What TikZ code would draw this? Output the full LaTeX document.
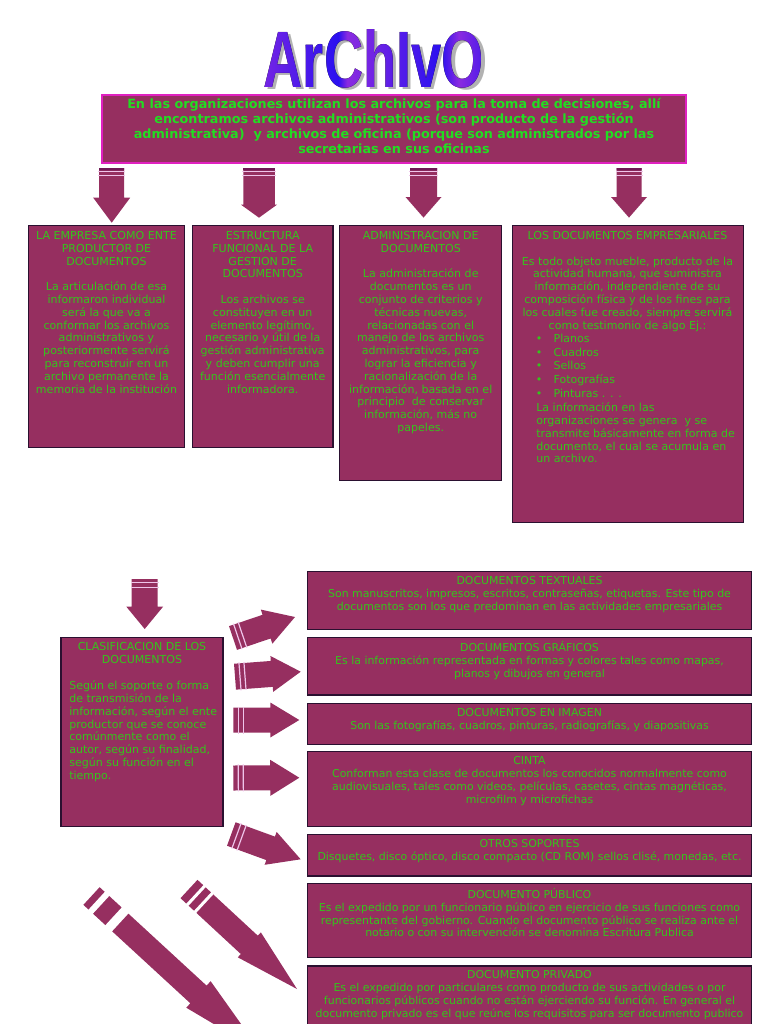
\documentclass[tikz,border=0pt]{standalone}
\usepackage{fontspec}
\setmainfont{DejaVu Sans}
\usetikzlibrary{fadings,calc}
\definecolor{plum}{HTML}{962F60}
\definecolor{plumdark}{HTML}{6E1A55}
\definecolor{edgedark}{HTML}{2A1030}
\definecolor{lime}{HTML}{35C41C}
\definecolor{limebright}{HTML}{22DD22}
\definecolor{headedge}{HTML}{E020C0}
\definecolor{paleline}{HTML}{EFC4EA}
\definecolor{tp}{HTML}{8A2BE0}
\definecolor{tb}{HTML}{2A10F0}
\pgfdeclarehorizontalshading{archivoshade}{168pt}{color(0pt)=(tp);color(28pt)=(tb);color(33pt)=(tp);color(50pt)=(tb);color(54pt)=(tp);color(76pt)=(tb);color(78pt)=(tp);color(99pt)=(tb);color(103pt)=(tp);color(112pt)=(tb);color(115pt)=(tp);color(136pt)=(tb);color(138pt)=(tp);color(168pt)=(tb)}
\begin{tikzfadingfrompicture}[name=archivofade]
\node[inner sep=0pt,text=transparent!0,xscale=.68,font=\fontspec{Liberation Sans Bold}\fontsize{60}{60}\selectfont] (fadetitle) at (0,0) {ArChIvO};
\end{tikzfadingfrompicture}
\tikzset{
  paper/.style={x=.75pt,y=-.75pt},
  boxst/.style={draw=edgedark,line width=.9pt,fill=plum,anchor=north west,inner sep=0pt},
  headst/.style={draw=headedge,line width=.9pt,fill=plum,anchor=north west,inner sep=0pt},
  txt/.style={text=lime,anchor=north,inner sep=0pt,align=center,font=\fontsize{8.2}{9.6}\selectfont,execute at begin node={\strut}},
  txtup/.style={txt,font=\fontsize{8.28}{9.6}\selectfont},
  txtl/.style={txtup,anchor=north west,align=left},
  pinkgap/.style={draw=paleline},
  whitegap/.style={draw=white},
  armst/.style={fill=plum,draw=none}
}
% box: name, x0, y0, x1, y1
\newcommand{\bx}[6][boxst]{\node[#1,minimum width={(#5-#3)*.75pt},minimum height={(#6-#4)*.75pt}] (#2) at (#3-.6,#4-.6) {};}
% block arrow: tail x,y; tip x,y; shaft w; head h; head length; gaps d/width
\newcommand{\barrow}[9][pinkgap]{%
  \pgfmathsetmacro{\lenA}{veclen(#4-#2,#5-#3)}%
  \pgfmathsetmacro{\ux}{(#4-#2)/\lenA}%
  \pgfmathsetmacro{\uy}{(#5-#3)/\lenA}%
  \def\Tx{#2}\def\Ty{#3}%
  \fill[armst]
    ({\Tx+\uy*#6/2},{\Ty-\ux*#6/2}) --
    ({\Tx+\ux*(\lenA-#8)+\uy*#6/2},{\Ty+\uy*(\lenA-#8)-\ux*#6/2}) --
    ({\Tx+\ux*(\lenA-#8)+\uy*#7/2},{\Ty+\uy*(\lenA-#8)-\ux*#7/2}) --
    (#4,#5) --
    ({\Tx+\ux*(\lenA-#8)-\uy*#7/2},{\Ty+\uy*(\lenA-#8)+\ux*#7/2}) --
    ({\Tx+\ux*(\lenA-#8)-\uy*#6/2},{\Ty+\uy*(\lenA-#8)+\ux*#6/2}) --
    ({\Tx-\uy*#6/2},{\Ty+\ux*#6/2}) -- cycle;
  \foreach \dd/\gw in {#9}{
    \draw[#1,line width=\gw*.75pt]
      ({\Tx+\ux*\dd+\uy*(#6/2+1)},{\Ty+\uy*\dd-\ux*(#6/2+1)}) --
      ({\Tx+\ux*\dd-\uy*(#6/2+1)},{\Ty+\uy*\dd+\ux*(#6/2+1)});
  }%
}
\begin{document}
\begin{tikzpicture}[paper]
\useasboundingbox (0,0) rectangle (768,1024);
\clip (0,0) rectangle (768,1024);
% title
\node[inner sep=0pt,text=black!30,xscale=.68,font=\fontspec{Liberation Sans Bold}\fontsize{60}{60}\selectfont] (titleshadow) at (377,60.5) {ArChIvO};
\fill[shading=archivoshade,path fading=archivofade,fit fading=false,fading transform={shift={(374,59)}}] (262,19) rectangle (486,99);

% header
\bx[headst]{head}{102}{95}{686}{163}
\node[txt,text=limebright,font=\bfseries\fontsize{9.58}{11.25}\selectfont] (headtext) at (394,98.5)
 {En las organizaciones utilizan los archivos para la toma de decisiones, allí\\
  encontramos archivos administrativos (son producto de la gestión\\
  administrativa)\ \ y archivos de oficina (porque son administrados por las\\
  secretarias en sus oficinas};

% top arrows
\barrow{111.7}{168}{111.7}{222.7}{25}{37}{25}{3/1,7.5/1}
\barrow{259}{168}{259}{217.7}{31.5}{36}{13}{3/1,7.5/1}
\barrow{423.5}{168}{423.5}{217.6}{27}{36}{20.6}{3/1,7.5/1}
\barrow{629}{168}{629}{217.6}{25}{36}{20.6}{3/1,7.5/1}
\fill[plumdark] (99.2,168) rectangle (124.2,170.4) (243.2,168) rectangle (274.8,170.4) (410,168) rectangle (437,170.4) (616.5,168) rectangle (641.5,170.4);

% upper boxes
\bx{boxa}{28.5}{225.7}{184.5}{447.5}
\bx{boxb}{192.5}{225.7}{333}{447.5}
\bx{boxc}{339.7}{225.7}{501.7}{480.7}
\bx{boxd}{512.7}{225.7}{743.3}{522.3}

\node[txtup] (texta) at (106.5,231) {LA EMPRESA COMO ENTE\\PRODUCTOR DE\\DOCUMENTOS\\[9.6pt]
 La articulación de esa\\informaron individual\\será la que va a\\conformar los archivos\\administrativos y\\posteriormente servirá\\para reconstruir en un\\archivo permanente la\\memoria de la institución};
\node[txtup] (textb) at (262.7,231) {ESTRUCTURA\\FUNCIONAL DE LA\\GESTION DE\\DOCUMENTOS\\[9.6pt]
 Los archivos se\\constituyen en un\\elemento legítimo,\\necesario y útil de la\\gestión administrativa\\y deben cumplir una\\función esencialmente\\informadora.};
\node[txtup] (textc) at (420.7,231) {ADMINISTRACION DE\\DOCUMENTOS\\[9.6pt]
 La administración de\\documentos es un\\conjunto de criterios y\\técnicas nuevas,\\relacionadas con el\\manejo de los archivos\\administrativos, para\\lograr la eficiencia y\\racionalización de la\\información, basada en el\\principio\ \ de conservar\\información, más no\\papeles.};
\node[txtup] (textd) at (627.5,231) {LOS DOCUMENTOS EMPRESARIALES\\[9.6pt]
 Es todo objeto mueble, producto de la\\actividad humana, que suministra\\información, independiente de su\\composición física y de los fines para\\los cuales fue creado, siempre servirá\\como testimonio de algo Ej.:};
\node[txtl,font=\fontsize{8.28}{10.4}\selectfont] (listd) at (535.5,333.5) {•\hspace{8.5pt}Planos\\•\hspace{8.5pt}Cuadros\\•\hspace{8.5pt}Sellos\\•\hspace{8.5pt}Fotografías\\•\hspace{8.5pt}Pinturas\ . . .};
\node[txtl] (parad) at (536,402.5) {La información en las\\organizaciones se genera\ \ y se\\transmite básicamente en forma de\\documento, el cual se acumula en\\un archivo.};

% classification
\barrow{144.7}{579}{144.7}{629}{26}{36.7}{22.3}{3.5/1,8/1}
\bx{boxe}{61}{637.7}{223}{826.7}
\node[txtup] (texte) at (142,642) {CLASIFICACION DE LOS\\DOCUMENTOS};
\node[txtl] (parae) at (69,680.5) {Según el soporte o forma\\de transmisión de la\\información, según el ente\\productor que se conoce\\comúnmente como el\\autor, según su finalidad,\\según su función en el\\tiempo.};

% side arrows
\barrow{233}{638}{295}{617}{25}{36}{30}{5/1.2,10/1.2}
\barrow{235}{676.7}{300.7}{671.7}{26}{36}{29}{5/1.2,10/1.2}
\barrow{233.3}{720}{299.3}{720}{25}{35}{29}{5/1.2,10/1.2}
\barrow{233.3}{778}{299.3}{777.7}{25}{36}{29}{5/1.2,10/1.2}
\barrow{231.3}{834}{300.7}{859.3}{25}{35}{32}{5.5/1.2,11/1.2}
\barrow[whitegap]{189}{889}{297}{989}{25}{34}{65}{9.5/3,20/3}
\barrow[whitegap]{91.5}{896}{261}{1052}{24}{36}{85}{10/6,34.5/9}

% right boxes
\bx{boxf}{307.3}{571.7}{751.7}{629.3}
\bx{boxg}{307.3}{637.3}{751.7}{695}
\bx{boxh}{307.3}{703.3}{751.7}{744.3}
\bx{boxi}{307.3}{751.7}{751.7}{826.7}
\bx{boxj}{307.3}{834.3}{751.7}{876}
\bx{boxk}{307.3}{883.3}{751.7}{957.7}
\bx{boxl}{307.3}{966}{751.7}{1040}

\node[txt] (textf) at (529.5,576.5) {DOCUMENTOS TEXTUALES\\Son manuscritos, impresos, escritos, contraseñas, etiquetas. Este tipo de\\documentos son los que predominan en las actividades empresariales};
\node[txt] (textg) at (529.5,641.5) {DOCUMENTOS GRÁFICOS\\Es la información representada en formas y colores tales como mapas,\\planos y dibujos en general};
\node[txt] (texth) at (529.5,708) {DOCUMENTOS EN IMAGEN\\Son las fotografías, cuadros, pinturas, radiografías, y diapositivas};
\node[txt] (texti) at (529.5,756.5) {CINTA\\Conforman esta clase de documentos los conocidos normalmente como\\audiovisuales, tales como videos, películas, casetes, cintas magnéticas,\\microfilm y microfichas};
\node[txt] (textj) at (529.5,839) {OTROS SOPORTES\\Disquetes, disco óptico, disco compacto (CD ROM) sellos clisé, monedas, etc.};
\node[txt] (textk) at (529.5,888) {DOCUMENTO PÚBLICO\\Es el expedido por un funcionario público en ejercicio de sus funciones como\\representante del gobierno. Cuando el documento público se realiza ante el\\notario o con su intervención se denomina Escritura Publica};
\node[txt] (textl) at (529.5,970.5) {DOCUMENTO PRIVADO\\Es el expedido por particulares como producto de sus actividades o por\\funcionarios públicos cuando no están ejerciendo su función. En general el\\documento privado es el que reúne los requisitos para ser documento publico};
\end{tikzpicture}
\end{document}
